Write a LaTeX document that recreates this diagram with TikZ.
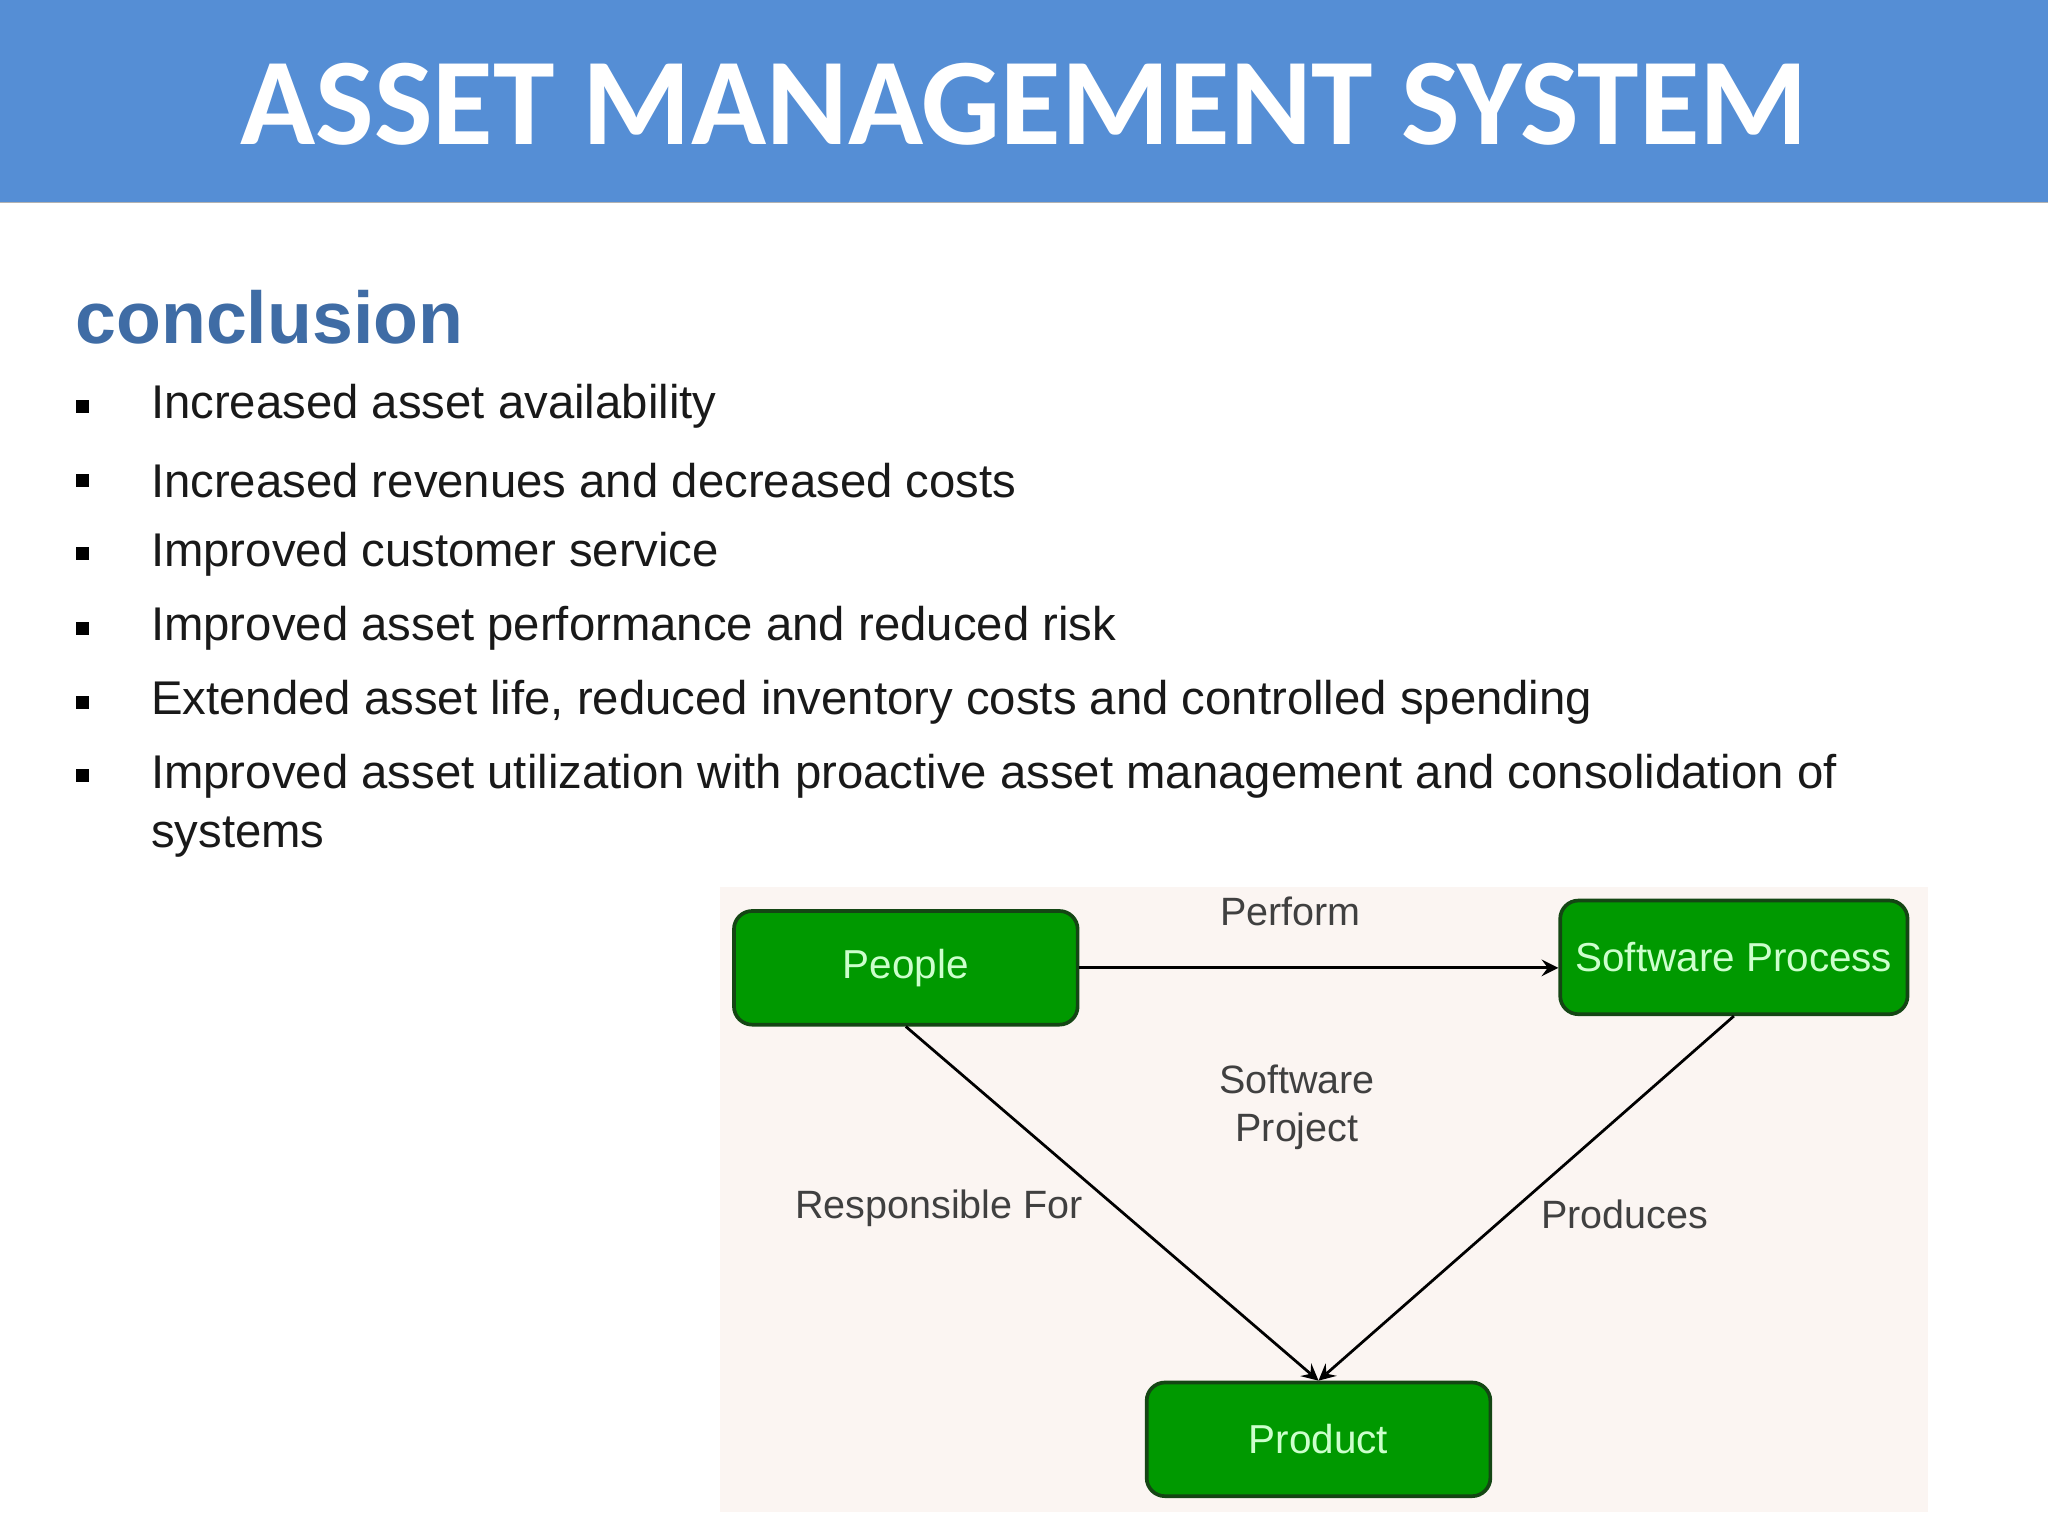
\documentclass[tikz,border=0pt]{standalone}
\usepackage{fontspec}
\setmainfont{Liberation Sans}
\newfontfamily\headfont{Carlito}
\definecolor{hdr}{RGB}{85,142,213}
\definecolor{cncl}{RGB}{63,108,165}
\definecolor{dbg}{RGB}{251,245,242}
\definecolor{gfill}{RGB}{0,153,0}
\definecolor{gtext}{RGB}{204,255,204}
\definecolor{gline}{RGB}{20,70,20}
\begin{document}
\begin{tikzpicture}[x=0.01cm,y=-0.01cm,
  bul/.style={anchor=west,inner sep=0pt,font=\fontsize{10.3pt}{12.5pt}\selectfont,text=black!90},
  sq/.style={fill=black,inner sep=0pt,minimum size=0.1cm},
  gbox/.style={draw=gline,line width=0.8pt,fill=gfill,rounded corners=0.14cm,minimum width=2.63cm,minimum height=0.87cm,text=gtext,font=\fontsize{8.8pt}{10pt}\selectfont},
  lbl/.style={text=black!75,font=\fontsize{8.6pt}{10.5pt}\selectfont,align=center},
  arr/.style={draw=black,line width=0.6pt,-stealth}]
\useasboundingbox (0,0) rectangle (1568,1176);
\fill[white] (0,0) rectangle (1568,1176);
\fill[hdr] (0,0) rectangle (1568,155);
\draw[black!30] (0,155) -- (1568,155);
\node[text=white,font=\headfont\bfseries\fontsize{27pt}{30pt}\selectfont] (title) at (784,80) {ASSET MANAGEMENT SYSTEM};
\node[anchor=west,inner sep=0pt,text=cncl,font=\bfseries\fontsize{16pt}{18pt}\selectfont] (concl) at (57,243) {conclusion};
\foreach \y/\t [count=\i] in {311/Increased asset availability/service reliability,
  368/Increased revenues and decreased costs,
  424/Improved customer service,
  481/Improved asset performance and reduced risk,
  538/{Extended asset life, reduced inventory costs and controlled spending},
  594/Improved asset utilization with proactive asset management and consolidation of}{
  \node[sq] (s\i) at (63,\y) {};
  \node[bul] (b\i) at (115,\y) {\t};
}
\node[bul] (b7) at (115,641) {systems};
\fill[dbg] (551,679) rectangle (1476,1158);
\node[gbox] (people) at (693.5,741) {People};
\node[gbox] (sp) at (1327.5,733) {Software Process};
\node[gbox] (prod) at (1009.5,1102) {Product};
\draw[arr] (people.east) -- (sp.west |- people.east);
\draw[arr] (people.south) -- (prod.north);
\draw[arr] (sp.south) -- (prod.north);
\node[lbl] (perform) at (988,698) {Perform};
\node[lbl] (proj) at (993,848) {Software\\Project};
\node[lbl] (resp) at (719,925) {Responsible For};
\node[lbl] (produces) at (1244,930) {Produces};
\end{tikzpicture}
\end{document}
